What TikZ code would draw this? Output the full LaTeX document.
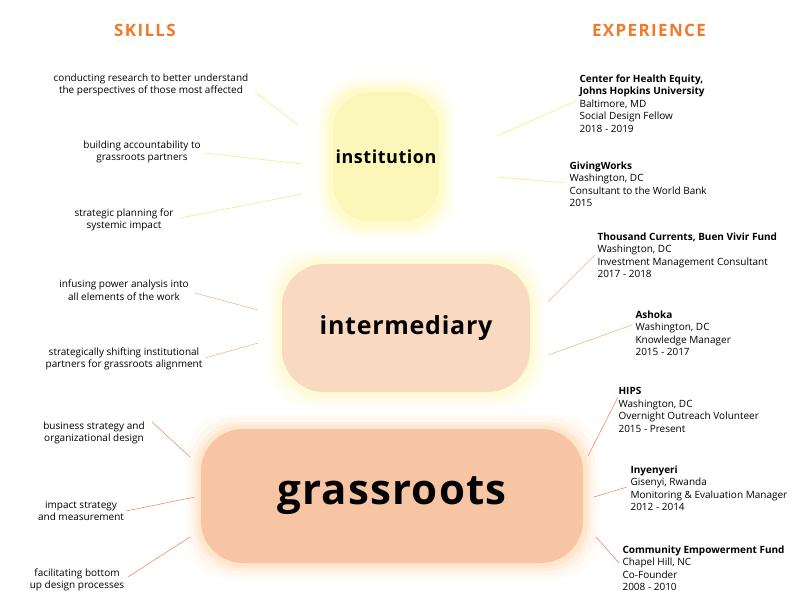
\documentclass[tikz,border=0pt]{standalone}
\usepackage{fontspec}
\setmainfont{Open Sans}
\definecolor{ttl}{HTML}{F07A2A}
\definecolor{ylw}{HTML}{F2EE60}
\definecolor{org}{HTML}{F3B070}
\definecolor{red}{HTML}{EE8050}
\definecolor{gfill}{HTML}{F7C4A4}
\definecolor{ifill}{HTML}{F9D9BF}
\definecolor{yfill}{HTML}{FBF7B8}
\begin{document}
\begin{tikzpicture}[x=1pt,y=-1pt,
  skill/.style={align=center,font=\fontsize{10}{12.5}\selectfont},
  exper/.style={align=left,anchor=north west,font=\fontsize{10}{12.5}\selectfont},
  head/.style={font=\fontsize{17}{20}\selectfont\bfseries\addfontfeature{LetterSpace=8},text=ttl},
  lnk/.style={line width=0.5pt}]
\useasboundingbox (0,0) rectangle (792,612);
\fill[white] (0,0) rectangle (792,612);
% glows
\foreach \i/\o in {14/0.06,10/0.08,6/0.12,3/0.18}{
 \fill[yellow!50,opacity=\o,rounded corners=40] (330-\i,90-\i) rectangle (442+\i,225+\i);
 \fill[yellow!40,opacity=\o,rounded corners=45] (280-\i,262-\i) rectangle (532+\i,395+\i);
 \fill[orange!50,opacity=\o,rounded corners=45] (200-\i,428-\i) rectangle (585+\i,565+\i);}
\node[fill=yfill,rounded corners=38,minimum width=106,minimum height=130] (inst) at (386,157) {};
\node[fill=ifill,rounded corners=42,minimum width=248,minimum height=128] (inter) at (406,328) {};
\node[fill=gfill,rounded corners=42,minimum width=382,minimum height=134] (grass) at (392,496) {};
\node[font=\fontsize{18}{22}\selectfont\bfseries\addfontfeature{LetterSpace=3}] at (inst) {institution};
\node[font=\fontsize{25}{30}\selectfont\bfseries\addfontfeature{LetterSpace=3}] at (inter) {intermediary};
\node[font=\fontsize{42}{48}\selectfont\bfseries\addfontfeature{LetterSpace=3}] at (grass) {grassroots};
% headings
\node[head] (sk) at (145,30) {SKILLS};
\node[head] (ex) at (649,30) {EXPERIENCE};
% skills
\node[skill] (s1) at (151,85) {conducting research to better understand\\the perspectives of those most affected};
\node[skill] (s2) at (142,152) {building accountability to\\grassroots partners};
\node[skill] (s3) at (124,220) {strategic planning for\\systemic impact};
\node[skill] (s4) at (124,290) {infusing power analysis into\\all elements of the work};
\node[skill] (s5) at (124,359) {strategically shifting institutional\\partners for grassroots alignment};
\node[skill] (s6) at (94,433) {business strategy and\\organizational design};
\node[skill] (s7) at (81,511) {impact strategy\\and measurement};
\node[skill] (s8) at (77,580) {facilitating bottom\\up design processes};
\coordinate (a1) at (255,92); \coordinate (b1) at (298,125);
\coordinate (a2) at (204,153); \coordinate (b2) at (302,164);
\coordinate (a3) at (180,218); \coordinate (b3) at (302,194);
\coordinate (a4) at (195,293); \coordinate (b4) at (258,310);
\coordinate (a5) at (205,358); \coordinate (b5) at (258,343);
\coordinate (a6) at (152,422); \coordinate (b6) at (190,457);
\coordinate (a7) at (126,511); \coordinate (b7) at (195,497);
\coordinate (a8) at (128,577); \coordinate (b8) at (190,537);
\draw[lnk,ylw] (a1)--(b1) (a2)--(b2) (a3)--(b3);
\draw[lnk,org] (a4)--(b4) (a5)--(b5);
\draw[lnk,red] (a6)--(b6) (a7)--(b7) (a8)--(b8);
% experience
\node[exper] (e1) at (576,71) {\textbf{Center for Health Equity,}\\\textbf{Johns Hopkins University}\\Baltimore, MD\\Social Design Fellow\\2018 - 2019};
\node[exper] (e2) at (566,158) {\textbf{GivingWorks}\\Washington, DC\\Consultant to the World Bank\\2015};
\node[exper] (e3) at (594,229) {\textbf{Thousand Currents, Buen Vivir Fund}\\Washington, DC\\Investment Management Consultant\\2017 - 2018};
\node[exper] (e4) at (632,307) {\textbf{Ashoka}\\Washington, DC\\Knowledge Manager\\2015 - 2017};
\node[exper] (e5) at (615,384) {\textbf{HIPS}\\Washington, DC\\Overnight Outreach Volunteer\\2015 - Present};
\node[exper] (e6) at (627,462) {\textbf{Inyenyeri}\\Gisenyi, Rwanda\\Monitoring \& Evaluation Manager\\2012 - 2014};
\node[exper] (e7) at (619,542) {\textbf{Community Empowerment Fund}\\Chapel Hill, NC\\Co-Founder\\2008 - 2010};
\coordinate (c1) at (497,136); \coordinate (d1) at (576,101);
\coordinate (c2) at (497,177); \coordinate (d2) at (566,183);
\coordinate (c3) at (548,302); \coordinate (d3) at (595,255);
\coordinate (c4) at (548,355); \coordinate (d4) at (632,325);
\coordinate (c5) at (588,456); \coordinate (d5) at (618,397);
\coordinate (c6) at (594,497); \coordinate (d6) at (627,487);
\coordinate (c7) at (596,537); \coordinate (d7) at (619,563);
\draw[lnk,ylw] (c1)--(d1) (c2)--(d2);
\draw[lnk,org] (c3)--(d3) (c4)--(d4);
\draw[lnk,red] (c5)--(d5) (c6)--(d6) (c7)--(d7);
\end{tikzpicture}
\end{document}
